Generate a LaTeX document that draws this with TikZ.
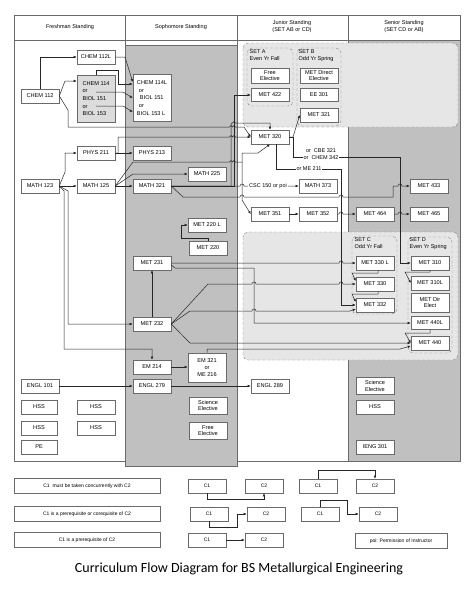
\documentclass[tikz,border=0pt]{standalone}
\usepackage{xcolor}
\usepackage{fontspec}
\setmainfont{Liberation Sans}
\newfontfamily\titlefont{Carlito}
\usepackage{tikz}
\usetikzlibrary{
  arrows.meta,
  calc,
  shadows
}
\definecolor{FlowGray}{HTML}{C0C0C0}
\definecolor{SetGray}{HTML}{E6E6E6}
\definecolor{ChemGray}{HTML}{DCDCDC}
\definecolor{EdgeGray}{HTML}{6A6A6A}
\definecolor{LineDark}{HTML}{262626}

\begin{document}
\begin{tikzpicture}[x=1pt,y=-1pt,
    course/.style={draw=EdgeGray,line width=0.55pt,fill=white,
      minimum width=38pt,minimum height=14pt,inner sep=1pt,align=center,
      font=\fontsize{5.6}{6.6}\selectfont,
      drop shadow={shadow xshift=0.8pt,shadow yshift=-0.8pt,opacity=0.3}},
    tall/.style={course,minimum height=17pt},
    cbox/.style={course,font=\fontsize{5}{6}\selectfont},
    legend/.style={course,minimum width=146pt,minimum height=15pt,font=\fontsize{5}{6}\selectfont},
    setbox/.style={draw=EdgeGray!80,fill=SetGray,rounded corners=5pt,densely dashed,line width=0.4pt},
    setlabel/.style={anchor=north west,align=left,inner sep=0.5pt,font=\fontsize{5.5}{7}\selectfont},
    head/.style={align=center,font=\fontsize{5.5}{7}\selectfont},
    link/.style={draw=LineDark,line width=0.5pt,-{Latex[length=3pt,width=2.6pt]}},
    onlink/.style={fill=white,inner sep=0.8pt,align=center,font=\fontsize{5.5}{7}\selectfont}
  ]
  \useasboundingbox (0,0) rectangle (474,613);
  \fill[white] (0,0) rectangle (474,613);

  % standing columns
  \fill[FlowGray] (348,41) rectangle (460,461);
  \draw[EdgeGray,line width=0.6pt] (14,15) rectangle (460,461);
  \draw[EdgeGray,line width=0.6pt] (14,40) -- (460,40);
  \draw[EdgeGray,line width=0.6pt] (125,15) -- (125,461) (237,15) -- (237,461) (348,15) -- (348,461);
  \filldraw[fill=FlowGray,draw=EdgeGray,line width=0.5pt] (125,45) rectangle (237,466);

  \node[head] (hfresh) at (70,27) {Freshman Standing};
  \node[head] (hsoph) at (181,27) {Sophomore Standing};
  \node[head] (hjun) at (292,27) {Junior Standing\\(SET AB or CD)};
  \node[head] (hsen) at (404,27) {Senior Standing\\(SET CD or AB)};

  % elective sets
  \draw[setbox] (243,43) rectangle (458,127);
  \draw[setbox] (247,48) rectangle (293,106);
  \draw[setbox] (297,48) rectangle (341,126);
  \draw[setbox] (243,232) rectangle (458,360);
  \draw[setbox] (352,236) rectangle (397,314);
  \draw[setbox] (408,237) rectangle (452,353);
  \node[setlabel] (seta) at (249,49) {SET A\\Even Yr Fall};
  \node[setlabel] (setb) at (298,49) {SET B\\Odd Yr Spring};
  \node[setlabel] (setc) at (354,237) {SET C\\Odd Yr Fall};
  \node[setlabel] (setd) at (409,237) {SET D\\Even Yr Spring};

  % freshman
  \node[course] (c112l) at (96,57) {CHEM 112L};
  \node[course] (c112) at (40,96) {CHEM 112};
  \node[course,fill=ChemGray,minimum height=47pt,align=left,font=\fontsize{5.6}{7.6}\selectfont]
    (c114) at (96,98.5) {CHEM 114\\or\\BIOL 151\\or\\BIOL 153};
  \node[course] (p211) at (96,153) {PHYS 211};
  \node[course] (m123) at (40,186) {MATH 123};
  \node[course] (m125) at (96,186) {MATH 125};
  \node[course] (e101) at (40,386) {ENGL 101};
  \node[course,minimum width=36pt] (hss1) at (39,407) {HSS};
  \node[course] (hss2) at (96,407) {HSS};
  \node[course,minimum width=36pt] (hss3) at (39,428) {HSS};
  \node[course] (hss4) at (96,428) {HSS};
  \node[course,minimum width=36pt] (pe) at (39,447) {PE};

  % sophomore
  \node[course,minimum height=47pt,align=left,font=\fontsize{5.6}{7.6}\selectfont]
    (c114l) at (152,98) {CHEM 114L\\\hspace*{2pt}or\\\hspace*{3pt}BIOL 151\\\hspace*{2pt}or\\BIOL 153 L};
  \node[course] (p213) at (152,153) {PHYS 213};
  \node[course] (m225) at (207,174) {MATH 225};
  \node[course] (m321) at (152,186) {MATH 321};
  \node[course] (m220l) at (207,225) {MET 220 L};
  \node[course] (m220) at (208,248) {MET 220};
  \node[course] (m231) at (152,263) {MET 231};
  \node[course] (m232) at (152,324) {MET 232};
  \node[course] (em214) at (152,367) {EM 214};
  \node[course,minimum height=29pt] (em321) at (207,367.5) {EM 321\\or\\ME 216};
  \node[course] (e279) at (152,386) {ENGL 279};
  \node[tall] (sci1) at (208,405.5) {Science\\Elective};
  \node[tall] (free1) at (208,430.5) {Free\\Elective};

  % junior
  \node[course,minimum height=15pt] (free2) at (270,75.5) {Free\\Elective};
  \node[course,minimum height=13pt] (m422) at (270,95) {MET 422};
  \node[course,minimum height=15pt] (mdir) at (319,75.5) {MET Direct\\Elective};
  \node[course,minimum height=13pt] (ee301) at (319,95) {EE 301};
  \node[course] (m321b) at (319,115) {MET 321};
  \node[course] (m320) at (270,137) {MET 320};
  \node[course] (m373) at (318,186) {MATH 373};
  \node[course] (m351) at (270,214) {MET 351};
  \node[course] (m352) at (318,214) {MET 352};
  \node[course] (e289) at (270,386) {ENGL 289};

  % senior
  \node[course] (m433) at (429,186) {MET 433};
  \node[course] (m464) at (375,214) {MET 464};
  \node[course] (m465) at (429,214) {MET 465};
  \node[course] (m330l) at (375,263) {MET 330 L};
  \node[course] (m330) at (375,284) {MET 330};
  \node[course] (m332) at (375,305) {MET 332};
  \node[course] (m310) at (430,263) {MET 310};
  \node[course] (m310l) at (430,283) {MET 310L};
  \node[course,minimum height=19pt] (mdel) at (430,302.5) {MET Dir\\Elect};
  \node[course,minimum height=13pt] (m440l) at (430,323) {MET 440L};
  \node[course] (m440) at (430,343) {MET 440};
  \node[tall] (sci2) at (375,386) {Science\\Elective};
  \node[course] (hss5) at (375,407) {HSS};
  \node[course] (ie301) at (375,447) {IENG 301};

  % chemistry
  \draw[link] (c112.north) |- (c112l.west);
  \draw[link] (c112.east) -- (65,81) -- ([yshift=17.5pt]c114.west);
  \draw[link] (c112l.east) -- (125,57) -- ([yshift=16pt]c114l.west);
  \draw[link] (c114.north) -- (96,70) -- (118,70) -- (118,84) -- ([yshift=14pt]c114l.west);
  \draw[link] ([yshift=6.5pt]c114.center) -- (123,92) -- (c114l.west);
  \draw[link] ([yshift=-7.5pt]c114.center) -- (123,106) -- ([yshift=-14pt]c114l.west);
  \draw[link] (c112.east) -- (68,110) -- (68,127) -- (229.5,127) arc(180:360:1.5) arc(180:360:1.5) -- (244,127) -- (m320.west);

  % physics and math
  \draw[link] (p211.east) -- (p213.west);
  \draw[link] (p211.east) -- (118,153) -- (118,137) -- (229.5,137) arc(180:360:1.5) arc(180:360:1.5) -- (m320.west);
  \draw[link] (m123.east) -- (m125.west);
  \draw[link] (m123.east) -- (65,172) -- (65,153) -- (p211.west);
  \draw[link] (m123.east) -- (68,191) -- (68,324) -- (m232.west);
  \draw[link] (m123.east) -- (64,191) -- (64,349) -| (em214.north);
  \draw[link] (m125.east) -- (m321.west);
  \draw[link] (m125.east) -- (133,174) -- (m225.west);
  \draw[link] (m125.east) -- (133,162) -- (229.5,162) arc(180:360:1.5) arc(180:360:1.5) -- (242,162) -- (242,153) -- (258,153) -- (m320.south);
  \coordinate (j125) at (242,162);
  \draw[link] (j125) -- (242,200) -- (m351.west);
  \draw[link] (m321.east) -- (240,186) arc(180:360:2) -- (m373.west);
  \draw[link] (m321.east) -| (234,95) -- (m422.west);
  \draw[link] (m321.east) -- (231,186) -- (231,123) -- (232.5,123) arc(180:360:1.5) -- (270,123) -- (m320.north);
  \draw[link] (m321.east) -- (183,197) -- (240,197) arc(180:360:2) -- (339,197) arc(180:360:2) -- (393,197) -- (393,186) -- (398,186) arc(180:360:2) -- (m433.west);

  % metallurgy
  \draw[link] (m320.east) -- (293,137) -- (m321b.west);
  \draw[link] (m320.east) -- (293,137) -- (293,157) -- (400,157) -- (400,263) -- (m310.west);
  \draw[link] ([xshift=6pt]m320.south) -- (276,169) -- (341,169) -- (341,305) -- (m332.west);
  \node[onlink] (lcbe) at (321,154) {or\ \ CBE 321\\or\ \ CHEM 342};
  \node[onlink] (lme) at (309,169) {or ME 211};
  \node[onlink] (lcsc) at (268,186) {CSC 150 or poi};
  \draw[link] (m351.east) -- (m352.west);
  \draw[link] (m352.east) -- (339,214) arc(180:360:2) -- (m464.west);
  \draw[link] (m464.east) -- (398,214) arc(180:360:2) -- (m465.west);
  \draw[link] (m220.north) -- (208,238) -- (181,238) -- (181,225) -- (m220l.west);
  \draw[link] (m232.north) -- (m231.south);
  \draw[link] (m231.east) -- (339,263) arc(180:360:2) -- (m330l.west);
  \draw[link] ([yshift=-2pt]m231.east) -- (175,268) -- (254,268) -- (254,323) -- (m440l.west);
  \draw[link] (m232.east) -- (208,284) -- (252,284) arc(180:360:2) -- (339,284) arc(180:360:2) -- (m330.west);
  \draw[link] (m232.east) -- (190,311) -- (252,311) arc(180:360:2) -- (350,311) -- ([yshift=-4pt]m332.west);
  \draw[link] (m232.east) -- (190,343) -- (m440.west);
  \draw[link] (em321.north) -- (207,349) -- (400,349) -- ([yshift=-3pt]m440.west);
  \draw[link] ([xshift=3pt]m330l.south) -- (378,273) -- (352,273) -- ([yshift=3pt]m330.west);
  \draw[link] ([xshift=3pt]m330.south) -- (378,294) -- (352,294) -- ([yshift=3pt]m332.west);
  \draw[link] (m310.south) -- (430,272) -- (405,272) -- (m310l.west);
  \draw[link] (m440l.south) -- (430,333) -- (405,333) -- (m440.west);
  \draw[link] (em214.east) -- (em214.east -| em321.west);
  \draw[link] (e101.east) -- (e279.west);
  \draw[link] (e279.east) -- (e289.west);

  % legend
  \node[legend] (lgc) at (87,486) {C1\ \ must be taken concurrently with C2};
  \node[legend] (lgpc) at (87,514) {C1 is a prerequisite or corequisite of C2};
  \node[legend] (lgp) at (87,540) {C1 is a prerequisite of C2};
  \node[cbox] (ca1) at (207,486) {C1};
  \node[cbox] (ca2) at (264,486) {C2};
  \node[cbox] (cb1) at (209,514) {C1};
  \node[cbox] (cb2) at (266,514) {C2};
  \node[cbox] (cd1) at (207,540) {C1};
  \node[cbox] (cd2) at (264,540) {C2};
  \node[cbox] (ce1) at (318,486) {C1};
  \node[cbox] (ce2) at (375,486) {C2};
  \node[cbox] (cf1) at (320,514) {C1};
  \node[cbox] (cf2) at (378,514) {C2};
  \node[cbox,minimum width=92pt,minimum height=15pt] (poi) at (401,541) {poi: Permission of Instructor};
  \draw[link] (ca1.south) -- (207,499) -| (ca2.south);
  \draw[link] (cb1.south) -- (209,527) -- (237,527) -- (237,514) -- (cb2.west);
  \draw[link] (cd1.east) -- (cd2.west);
  \draw[link] (ce1.north) -- (318,470) -| (ce2.north);
  \draw[link] (cf1.north) -- (320,500) -- (347,500) -- (347,514) -- (cf2.west);

  \node[font=\titlefont\fontsize{14}{16}\selectfont] (title) at (239,569)
    {Curriculum Flow Diagram for BS Metallurgical Engineering};
\end{tikzpicture}
\end{document}
